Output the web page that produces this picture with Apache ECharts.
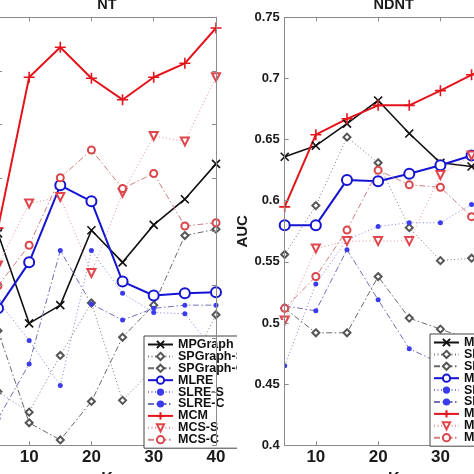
<!DOCTYPE html>
<html><head><meta charset="utf-8">
<script src="https://cdn.jsdelivr.net/npm/echarts@6/dist/echarts.min.js"></script>
<style>html,body{margin:0;padding:0;background:#fff;overflow:hidden;width:474px;height:474px}#c{width:540px;height:474px;margin-left:-10px}</style>
</head><body><div id="c"></div>
<script>
const K = [5, 10, 15, 20, 25, 30, 35, 40];
const xTicks = [10, 20, 30, 40];
const names = ['MPGraph', 'SPGraph-S', 'SPGraph-C', 'MLRE', 'SLRE-S', 'SLRE-C', 'MCM', 'MCS-S', 'MCS-C'];
const titles = ['NT', 'NDNT'];

// NT panel (left)
const ntMPGraph  = [0.598, 0.514, 0.531, 0.601, 0.571, 0.606, 0.630, 0.663];
const ntSPGraphS = [0.450, 0.431, 0.484, 0.533, 0.442, 0.472, 0.464, 0.522];
const ntSPGraphC = [0.507, 0.421, 0.405, 0.441, 0.501, 0.531, 0.596, 0.602];
const ntMLRE     = [0.528, 0.571, 0.643, 0.628, 0.553, 0.540, 0.542, 0.543];
const ntSLRES    = [0.535, 0.498, 0.456, 0.582, 0.542, 0.524, 0.523, 0.486];
const ntSLREC    = [0.425, 0.476, 0.582, 0.532, 0.517, 0.528, 0.531, 0.531];
const ntMCM      = [0.603, 0.744, 0.772, 0.743, 0.723, 0.744, 0.757, 0.790];
const ntMCSS     = [0.568, 0.626, 0.632, 0.561, 0.636, 0.689, 0.684, 0.744];
const ntMCSC     = [0.549, 0.587, 0.650, 0.676, 0.640, 0.654, 0.605, 0.608];

// NDNT panel (right)
const ndMPGraph  = [0.636, 0.645, 0.663, 0.682, 0.655, 0.631, 0.628, 0.625];
const ndSPGraphS = [0.556, 0.596, 0.652, 0.631, 0.578, 0.551, 0.553, 0.555];
const ndSPGraphC = [0.512, 0.492, 0.492, 0.538, 0.504, 0.495, 0.486, 0.480];
const ndMLRE     = [0.580, 0.580, 0.617, 0.616, 0.622, 0.629, 0.637, 0.640];
const ndSLRES    = [0.465, 0.532, 0.568, 0.579, 0.582, 0.582, 0.597, 0.600];
const ndSLREC    = [0.514, 0.510, 0.560, 0.519, 0.479, 0.467, 0.462, 0.458];
const ndMCM      = [0.595, 0.654, 0.667, 0.678, 0.678, 0.690, 0.703, 0.712];
const ndMCSS     = [0.502, 0.561, 0.567, 0.567, 0.567, 0.621, 0.637, 0.650];
const ndMCSC     = [0.512, 0.538, 0.576, 0.625, 0.613, 0.611, 0.587, 0.590];

const panels = [
  [ntMPGraph, ntSPGraphS, ntSPGraphC, ntMLRE, ntSLRES, ntSLREC, ntMCM, ntMCSS, ntMCSC],
  [ndMPGraph, ndSPGraphS, ndSPGraphC, ndMLRE, ndSLRES, ndSLREC, ndMCM, ndMCSS, ndMCSC]
];

const DOT = [1, 2.5];
const DASHDOT = [6, 2.5, 1.5, 2.5];
const styles = [
  {color: '#111111', w: 1.6, type: 'solid', symbol: 'path://M-1,-1L1,1M-1,1L1,-1', size: 8, bw: 1.6},
  {color: '#555555', w: 1, type: DOT, symbol: 'emptyDiamond', size: 7, bw: 1, lineColor: '#777777'},
  {color: '#555555', w: 1, type: DASHDOT, symbol: 'emptyDiamond', size: 7, bw: 1, lineColor: '#6a6a6a'},
  {color: '#1414d2', w: 2, type: 'solid', symbol: 'emptyCircle', size: 10, bw: 1.8},
  {color: '#3a3af0', w: 1, type: DOT, symbol: 'circle', size: 5, bw: 0, lineColor: '#8080e6'},
  {color: '#3a3af0', w: 1, type: DASHDOT, symbol: 'circle', size: 5, bw: 0, lineColor: '#7070b8'},
  {color: '#e4141c', w: 2, type: 'solid', symbol: 'path://M-1,0L1,0M0,-1L0,1', size: 11, bw: 1.6},
  {color: '#e0464c', w: 1, type: DOT, symbol: 'emptyTriangle', size: 8, bw: 1, rot: 180, lineColor: '#e89094'},
  {color: '#d9464c', w: 1, type: DASHDOT, symbol: 'emptyCircle', size: 7, bw: 1, lineColor: '#cf8084'}
];

const axisGray = '#8a8a8a';
const fontFam = '"Liberation Sans", Arial, sans-serif';
const tickFmt = v => String(+(+v).toFixed(2));
const OX = 10; // container is shifted 10px left

const grids = [
  {left: -2 + OX, top: 17.3, width: 218, height: 428, outerBoundsMode: 'none', containLabel: false},
  {left: 284.7 + OX, top: 17.3, width: 218, height: 428, outerBoundsMode: 'none', containLabel: false}
];
const yRanges = [[0.4, 0.8], [0.4, 0.75]];

const xAxes = [], yAxes = [], series = [];
for (let g = 0; g < 2; g++) {
  ['bottom', 'top'].forEach((pos, j) => {
    xAxes.push({
      gridIndex: g, type: 'value', position: pos, min: 5, max: 40,
      axisLine: {show: true, onZero: false, lineStyle: {color: axisGray, width: 1}},
      axisTick: {show: true, inside: true, length: 4, customValues: xTicks, lineStyle: {color: axisGray}},
      axisLabel: {show: j === 0, customValues: xTicks, margin: 4, hideOverlap: false, fontSize: 17, fontWeight: 'bold', color: '#1a1a1a', fontFamily: fontFam},
      splitLine: {show: false},
      name: j === 0 ? 'K' : '', nameLocation: 'middle', nameGap: 15,
      nameTextStyle: {fontSize: 16, fontWeight: 'bold', color: '#1a1a1a', fontFamily: fontFam}
    });
  });
  ['left', 'right'].forEach((pos, j) => {
    yAxes.push({
      gridIndex: g, type: 'value', position: pos, min: yRanges[g][0], max: yRanges[g][1], interval: 0.05,
      z: 10,
      axisLine: {show: true, onZero: false, lineStyle: {color: axisGray, width: 1}},
      axisTick: {show: true, inside: true, length: 4, lineStyle: {color: axisGray}},
      axisLabel: {show: g === 1 && j === 0, formatter: tickFmt, margin: 5, fontSize: 13, fontWeight: 'bold', color: '#1a1a1a', fontFamily: fontFam},
      splitLine: {show: false},
      name: (g === 1 && j === 0) ? 'AUC' : '', nameLocation: 'middle', nameGap: 33,
      nameTextStyle: {fontSize: 15, fontWeight: 'bold', color: '#1a1a1a', fontFamily: fontFam}
    });
  });
  panels[g].forEach((vals, i) => {
    const s = styles[i];
    series.push({
      name: names[i], type: 'line', xAxisIndex: g * 2, yAxisIndex: g * 2,
      data: K.map((k, n) => [k, vals[n]]),
      symbol: s.symbol, symbolSize: s.size, symbolRotate: s.rot || 0, symbolKeepAspect: true,
      showAllSymbol: true, animation: false,
      lineStyle: {color: s.lineColor || s.color, width: s.w, type: s.type},
      itemStyle: {color: s.color, borderColor: s.color, borderWidth: s.bw},
      emphasis: {disabled: true}
    });
  });
}

const legendBase = {
  orient: 'vertical', data: names, selectedMode: false, z: 4,
  itemWidth: 25, itemHeight: 9, itemGap: -1.1, padding: [2, 3],
  backgroundColor: '#ffffff', borderColor: '#444444', borderWidth: 1,
  textStyle: {fontSize: 12.5, lineHeight: 11, fontWeight: 'bold', color: '#111111', fontFamily: fontFam}
};

const chart = echarts.init(document.getElementById('c'), null, {renderer: 'canvas'});
chart.setOption({
  animation: false,
  backgroundColor: '#ffffff',
  grid: grids,
  xAxis: xAxes,
  yAxis: yAxes,
  series: series,
  legend: [
    Object.assign({}, legendBase, {left: 144 + OX, top: 336}),
    Object.assign({}, legendBase, {left: 430 + OX, top: 334})
  ],
  graphic: [
    {type: 'text', x: 107 + OX, y: 5, style: {text: titles[0], align: 'center', verticalAlign: 'middle', fontSize: 14.5, fontWeight: 'bold', fill: '#1a1a1a', fontFamily: fontFam}},
    {type: 'text', x: 393.7 + OX, y: 5, style: {text: titles[1], align: 'center', verticalAlign: 'middle', fontSize: 14.5, fontWeight: 'bold', fill: '#1a1a1a', fontFamily: fontFam}},
    {type: 'rect', z: 5, shape: {x: 237 + OX, y: 320, width: 47, height: 140}, style: {fill: '#ffffff'}}
  ]
});
</script>
</body></html>
